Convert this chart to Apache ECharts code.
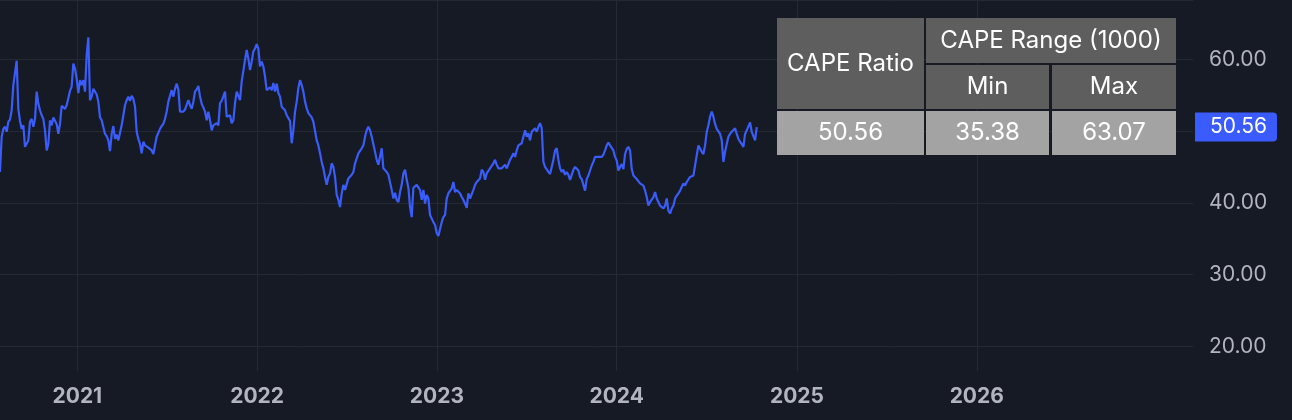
<!DOCTYPE html>
<html>
<head>
<meta charset="utf-8">
<script src="https://cdn.jsdelivr.net/npm/echarts@6/dist/echarts.min.js"></script>
<style>
html,body{margin:0;padding:0;background:#161a25;}
#chart{width:1292px;height:420px;}
</style>
</head>
<body>
<div id="chart"></div>
<script>
// ---- data ----
const startDate = '2020-07-28';
const stepDays = 3.384;
const capeValues = [
 44.3,49.2,50.3,50.6,49.9,51.3,51.6,52.9,56.4,56.4,
 59.8,53.1,51.4,50.3,50.8,47.8,48.0,48.7,51.3,51.7,
 50.6,51.7,55.5,53.8,52.9,52.2,51.7,50.1,47.3,48.2,
 51.5,50.8,51.9,52.1,51.0,49.6,51.0,53.5,53.5,53.1,
 53.6,53.4,55.6,56.2,59.4,58.7,57.3,55.3,57.1,56.4,
 57.1,55.5,60.6,63.07,54.3,54.8,55.9,55.7,55.1,54.1,
 51.9,51.5,51.6,49.6,49.3,48.7,47.2,49.6,50.7,48.9,
 49.5,48.7,48.9,50.8,52.2,53.6,54.3,54.8,54.2,54.9,
 54.5,53.4,49.9,48.9,48.2,46.9,48.5,48.0,48.2,47.7,
 47.9,47.3,46.8,48.0,49.2,49.3,50.3,50.7,51.0,51.7,
 52.7,54.1,54.3,55.7,54.8,55.9,56.6,55.8,52.7,52.9,
 52.7,53.0,52.9,54.3,53.6,53.1,54.1,
 55.5,55.8,56.3,54.8,53.8,53.3,52.7,51.5,52.7,51.5,
 50.1,50.8,50.6,51.1,50.8,53.9,54.2,54.1,55.5,52.0,
 51.8,52.2,51.1,51.5,53.9,55.5,55.7,54.3,56.9,57.1,
 59.9,61.3,60.1,58.5,59.7,61.1,61.5,62.1,61.5,59.0,
 59.7,59.0,57.6,55.7,55.5,56.1,55.7,56.7,55.5,56.6,
 55.3,54.8,53.4,53.2,52.9,52.2,51.8,51.4,48.3,50.1,
 52.7,54.1,56.0,57.1,56.4,55.5,54.1,53.2,52.5,52.5,
 51.9,51.3,51.5,48.7,48.0,46.9,45.7,44.8,43.6,42.5,
 43.6,44.1,45.5,45.0,43.6,41.1,40.4,39.4,41.3,42.5,
 41.8,42.0,43.4,43.6,43.9,44.3,45.5,46.2,46.9,46.7,
 47.6,48.0,49.2,50.1,50.6,50.1,49.2,49.2,47.1,46.0,
 45.3,45.5,
 47.6,44.8,45.0,44.3,43.9,43.7,41.8,40.6,41.4,40.4,
 40.1,41.5,42.5,44.1,44.6,43.2,42.1,39.4,38.0,42.1,
 42.0,42.5,42.5,41.8,40.4,41.8,39.9,41.1,40.6,38.3,
 38.3,37.3,36.9,35.8,35.38,35.5,37.3,38.0,38.3,40.6,
 41.3,41.5,42.0,42.9,41.5,41.8,42.0,41.3,40.8,40.4,
 39.9,39.3,41.3,40.6,40.8,41.8,42.5,42.9,42.7,43.4,
 44.6,44.3,43.2,44.1,44.3,44.8,44.8,45.5,46.0,45.3,
 44.8,45.0,44.8,44.7,45.3,44.8,45.0,46.0,46.4,46.9,
 46.4,47.3,48.0,48.0,48.3,48.5,50.1,49.2,49.7,48.7,
 49.9,50.1,50.4,49.9,50.6,51.1,50.4,45.7,45.0,44.8,
 44.3,44.0,45.0,46.0,47.3,47.6,46.0,44.8,44.3,44.6,
 43.9,44.3,43.9,43.2,43.9,44.6,
 45.0,45.2,44.5,43.6,43.3,43.1,41.7,43.3,43.8,44.5,
 45.2,45.7,46.4,46.6,46.4,46.5,46.4,46.7,47.3,48.0,
 48.4,48.0,47.8,47.3,46.4,45.9,44.5,45.0,45.4,44.7,
 46.8,47.5,47.8,47.3,44.7,43.8,44.0,43.3,43.1,42.7,
 42.8,42.4,41.7,40.8,39.6,40.1,40.1,40.8,41.5,40.6,
 40.1,39.6,39.4,39.2,39.6,40.6,38.9,38.5,39.2,39.6,
 40.6,41.0,41.3,41.7,42.2,42.7,42.4,42.9,43.1,43.6,
 43.8,43.8,44.0,46.6,48.0,48.2,47.1,46.8,48.0,49.9,
 50.8,52.0,52.7,52.0,51.0,50.3,50.3,49.6,48.7,45.7,
 47.1,48.2,49.2,49.6,49.9,49.9,50.4,49.6,48.9,48.5,
 48.2,47.8,49.6,50.1,50.1,51.2,49.9,49.8,48.7,50.56
];
const xAxisMin = '2020-07-28';
const xAxisMax = '2027-03-16';
const yearLabels = ['2021', '2022', '2023', '2024', '2025', '2026'];
const yAxisMin = 16.55;
const yAxisMax = 68.27;
const lastValue = 50.56;
const tableHeaders = ['CAPE Ratio', 'CAPE Range (1000)', 'Min', 'Max'];
const tableValues = ['50.56', '35.38', '63.07'];

// ---- build ----
const DAY = 86400000;
const t0 = new Date(startDate + 'T00:00:00Z').getTime();
const seriesData = capeValues.map((v, i) => [t0 + i * stepDays * DAY, v]);

const FONT = 'Inter, "Noto Sans", sans-serif';
const GRID = '#252934';
const headBg = '#5e5e5e';
const valBg = '#a3a3a3';

function cell(x, y, w, h, fill, text) {
  return [
    { type: 'rect', shape: { x: x, y: y, width: w, height: h }, style: { fill: fill }, silent: true, z: 100 },
    { type: 'text', x: x + w / 2, y: y + h / 2, silent: true, z: 101,
      style: { text: text, fill: '#ffffff', font: '400 24px ' + FONT, align: 'center', verticalAlign: 'middle' } }
  ];
}

const tableGraphics = [].concat(
  cell(777, 18, 147, 91, headBg, tableHeaders[0]),
  cell(926, 18, 250, 45, headBg, tableHeaders[1]),
  cell(926, 65, 123, 44, headBg, tableHeaders[2]),
  cell(1052, 65, 124, 44, headBg, tableHeaders[3]),
  cell(777, 111, 147, 44, valBg, tableValues[0]),
  cell(926, 111, 123, 44, valBg, tableValues[1]),
  cell(1052, 111, 124, 44, valBg, tableValues[2])
);

// vertical grid lines only for the labelled years
const xLineColors = yearLabels.map(() => GRID).concat(['rgba(0,0,0,0)', 'rgba(0,0,0,0)']);

const chart = echarts.init(document.getElementById('chart'), null, { renderer: 'canvas' });
chart.setOption({
  backgroundColor: '#161a25',
  animation: false,
  textStyle: { fontFamily: FONT },
  grid: { left: 0, right: 99, top: 0, bottom: 49, containLabel: false },
  xAxis: {
    type: 'time',
    min: new Date(xAxisMin + 'T00:00:00Z').getTime(),
    max: new Date(xAxisMax + 'T00:00:00Z').getTime(),
    splitNumber: 6,
    axisLine: { show: false },
    axisTick: { show: false },
    axisLabel: {
      formatter: v => {
        const y = String(new Date(v).getUTCFullYear());
        return yearLabels.indexOf(y) >= 0 ? y : '';
      },
      color: '#b2b5be',
      fontSize: 21,
      fontWeight: 'bold',
      fontFamily: FONT,
      margin: 15,
      showMinLabel: false,
      showMaxLabel: false
    },
    splitLine: { show: true, showMinLine: false, showMaxLine: false, lineStyle: { color: xLineColors, width: 1 } }
  },
  yAxis: {
    type: 'value',
    position: 'right',
    min: yAxisMin,
    max: yAxisMax,
    axisLine: { show: false },
    axisTick: { show: false },
    axisLabel: {
      formatter: v => v.toFixed(2),
      color: '#b2b5be',
      fontSize: 21,
      fontFamily: FONT,
      margin: 16,
      showMinLabel: false,
      showMaxLabel: false
    },
    splitLine: { show: true, showMinLine: false, showMaxLine: true, lineStyle: { color: GRID, width: 1 } }
  },
  series: [{
    type: 'line',
    data: seriesData,
    showSymbol: false,
    symbol: 'none',
    lineStyle: { color: '#3a5cf8', width: 2.2 },
    itemStyle: { color: '#3a5cf8' },
    markLine: {
      silent: true,
      symbol: 'none',
      animation: false,
      lineStyle: { color: 'rgba(0,0,0,0)', width: 1, type: 'solid' },
      label: {
        show: true,
        position: 'end',
        distance: 2,
        formatter: () => lastValue.toFixed(2),
        color: '#ffffff',
        opacity: 1,
        fontSize: 21,
        fontFamily: FONT,
        backgroundColor: '#3a5bfe',
        padding: [4, 10, 4, 15],
        borderRadius: [0, 4, 4, 0]
      },
      data: [{ yAxis: lastValue }]
    }
  }],
  graphic: tableGraphics
});
</script>
</body>
</html>
